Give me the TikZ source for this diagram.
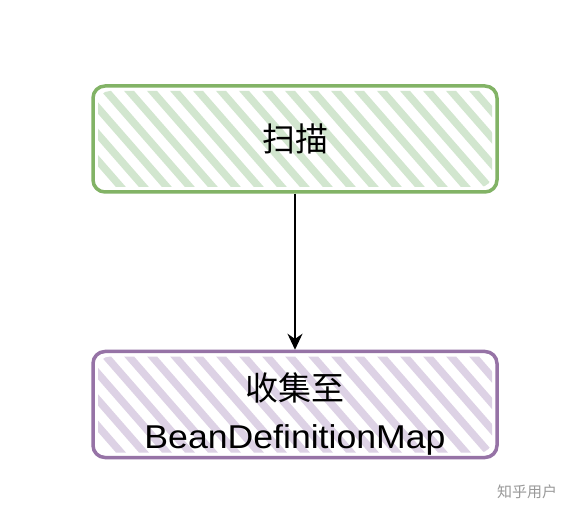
\documentclass[tikz,border=0pt]{standalone}
\usepackage{fontspec}
\setmainfont{Liberation Sans}
\newfontfamily\cjk{Noto Sans CJK SC}
\usetikzlibrary{arrows.meta}
\definecolor{gstroke}{HTML}{82B366}
\definecolor{ghatch}{HTML}{D2E6CF}
\definecolor{pstroke}{HTML}{9673A6}
\definecolor{phatch}{HTML}{DDD2E5}
\tikzset{
  hatchbox/.style 2 args={draw=#1, line width=3.5pt, rounded corners=12pt,
    minimum width=404pt, minimum height=106pt, align=center, inner sep=0pt,
    path picture={
      \clip ([shift={(5pt,-5pt)}]path picture bounding box.north west) rectangle
            ([shift={(-5pt,5pt)}]path picture bounding box.south east);
      \foreach \i in {-6,...,19}
        \draw[line width=7.5pt, color=#2]
          ([xshift=\i*23pt, yshift=10pt]path picture bounding box.north west) -- ++(110pt,-126pt);
    }},
  arr/.style={-{Stealth[length=16pt,width=15pt]}, line width=1.8pt, black},
}
\begin{document}
\begin{tikzpicture}[x=1pt,y=-1pt]
\useasboundingbox (0,0) rectangle (586,510);
\fill[white] (0,0) rectangle (586,510);
\node[hatchbox={gstroke}{ghatch}, font=\cjk\fontsize{33}{40}\selectfont] (scan) at (295,139) {扫描};
\node[hatchbox={pstroke}{phatch}] (collect) at (295,404.5) {};
\node[font=\cjk\fontsize{33}{40}\selectfont, inner sep=0pt] (l1) at (295,388) {收集至};
\node[font=\fontsize{33}{40}\selectfont, inner sep=0pt, anchor=base] (l2) at (295,448)
  {\scalebox{1.08}[1]{BeanDefinitionMap}};
\draw[arr] (scan.south) -- (collect.north);
\node[text=black!40, font=\cjk\fontsize{15}{15}\selectfont, inner sep=0pt] (wm) at (527,492) {知乎用户};
\end{tikzpicture}
\end{document}
